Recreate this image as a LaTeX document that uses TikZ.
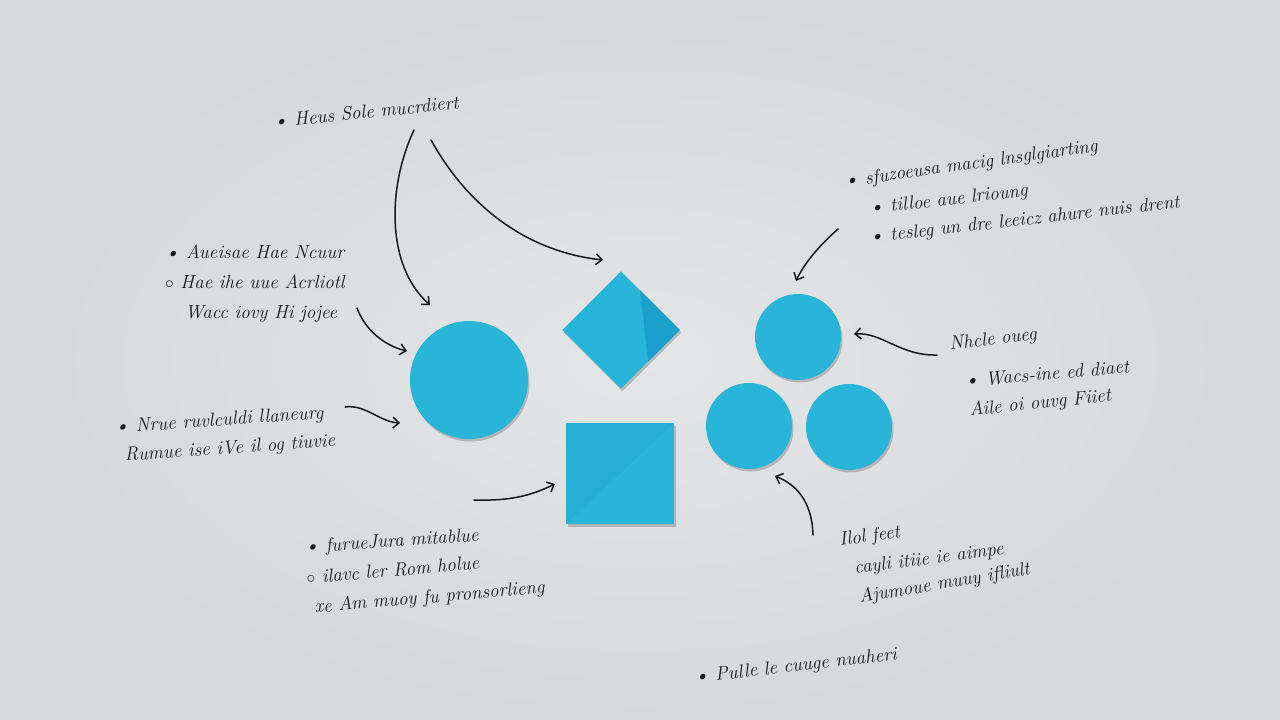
\documentclass[tikz,border=0pt]{standalone}
\usepackage{fontspec}
\usetikzlibrary{arrows.meta,calc,shadows,shapes.geometric}
\definecolor{board}{RGB}{227,229,231}
\definecolor{boardedge}{RGB}{214,216,219}
\definecolor{chipblue}{RGB}{41,181,217}
\definecolor{chipdark}{RGB}{27,160,206}
\definecolor{inkblack}{RGB}{24,24,26}
\begin{document}
\begin{tikzpicture}[x=1pt,y=-1pt]
  \tikzset{
    chip/.style={fill=chipblue, draw=none, inner sep=0pt,
      drop shadow={shadow xshift=1.5pt, shadow yshift=-2.5pt, opacity=.35, fill=black!60}},
    note/.style={anchor=base west, inner sep=0pt, text=inkblack,
      font=\fontsize{19}{21}\selectfont\itshape},
    ink/.style={draw=inkblack, line width=1.5pt, line cap=round,
      -{Straight Barb[length=6pt,width=11pt,line width=1.5pt]}}
  }

  \shade[inner color=board, outer color=boardedge] (0,0) rectangle (1280,720);
  \useasboundingbox (0,0) rectangle (1280,720);

  \node [chip, circle, minimum size=118pt] (circ-A) at (469,380) {};
  \node [chip, minimum size=83pt, rotate=45] (diam-A) at (621,330) {};
  \fill [chipdark] ($(diam-A.north east)!.32!(diam-A.south east)$) -- (diam-A.south east)
    -- ($(diam-A.south east)!.54!(diam-A.south west)$) -- cycle;
  \node [chip, minimum width=108pt, minimum height=101pt] (sq-A) at (620,473.5) {};
  \fill [chipdark, opacity=.25] (sq-A.north west) -- (sq-A.north east) -- (sq-A.south west) -- cycle;
  \node [chip, circle, minimum size=86pt] (circ-B) at (798,337) {};
  \node [chip, circle, minimum size=86pt] (circ-C) at (749,426) {};
  \node [chip, circle, minimum size=86pt] (circ-D) at (849,427) {};

  \node [note, rotate=6] (note-T) at (274,128) {\textbullet\ Heus Sole mucrdiert};

  \node [note] (note-L1) at (165,258) {\textbullet\ Aueisae Hae Ncuur};
  \node [note] (note-L2) at (165,288) {$\circ$\ Hae ihe uue Acrliotl};
  \node [note] (note-L3) at (185,318) {Wacc iovy Hi jojee};

  \node [note, rotate=4] (note-M1) at (115,433) {\textbullet\ Nrue ruvlculdi llaneurg};
  \node [note, rotate=4] (note-M2) at (125,461) {Rumue ise iVe il og tiuvie};

  \node [note, rotate=8] (note-R1) at (845,187) {\textbullet\ sfuzoeusa macig lnsglgiarting};
  \node [note, rotate=6.5] (note-R2) at (870,214) {\textbullet\ tilloe aue lrioung};
  \node [note, rotate=6.5] (note-R3) at (870,243) {\textbullet\ tesleg un dre leeicz ahure nuis drent};

  \node [note, rotate=7] (note-S1) at (950,350) {Nhcle oueg};
  \node [note, rotate=5] (note-S2) at (965,387) {\textbullet\ Wacs-ine ed diaet};
  \node [note, rotate=6] (note-S3) at (970,416) {Aile oi ouvg Fiiet};

  \node [note, rotate=4] (note-B1) at (305,553) {\textbullet\ furueJura mitablue};
  \node [note, rotate=5] (note-B2) at (307,584) {$\circ$\ ilavc ler Rom holue};
  \node [note, rotate=5] (note-B3) at (315,613) {xe Am muoy fu pronsorlieng};

  \node [note, rotate=8] (note-C1) at (840,546) {Ilol feet};
  \node [note, rotate=7.5] (note-C2) at (855,574) {cayli itiie ie aimpe};
  \node [note, rotate=9.5] (note-C3) at (860,603) {Ajumoue muuy ifliult};

  \node [note, rotate=6.5] (note-D) at (695,683) {\textbullet\ Pulle le cuuge nuaheri};

  \coordinate (from-1) at (414,130);  \coordinate (to-1) at (430,305);
  \coordinate (from-2) at (431,140);  \coordinate (to-2) at (603,260);
  \coordinate (from-3) at (357,308);  \coordinate (to-3) at (407,351);
  \coordinate (from-4) at (345,407);  \coordinate (to-4) at (400,423);
  \coordinate (from-5) at (474,500);  \coordinate (to-5) at (555,484);
  \coordinate (from-6) at (838,229);  \coordinate (to-6) at (796,281);
  \coordinate (from-7) at (937,355);  \coordinate (to-7) at (854,334);
  \coordinate (from-8) at (813,535);  \coordinate (to-8) at (775,476);

  \draw [ink] (from-1) .. controls (388,185) and (385,265) .. (to-1);
  \draw [ink] (from-2) .. controls (470,210) and (530,252) .. (to-2);
  \draw [ink] (from-3) .. controls (365,330) and (385,346) .. (to-3);
  \draw [ink] (from-4) .. controls (365,404) and (380,422) .. (to-4);
  \draw [ink] (from-5) .. controls (510,501) and (530,496) .. (to-5);
  \draw [ink] (from-6) .. controls (820,245) and (805,262) .. (to-6);
  \draw [ink] (from-7) .. controls (900,356) and (882,332) .. (to-7);
  \draw [ink] (from-8) .. controls (812,500) and (795,484) .. (to-8);
\end{tikzpicture}
\end{document}
